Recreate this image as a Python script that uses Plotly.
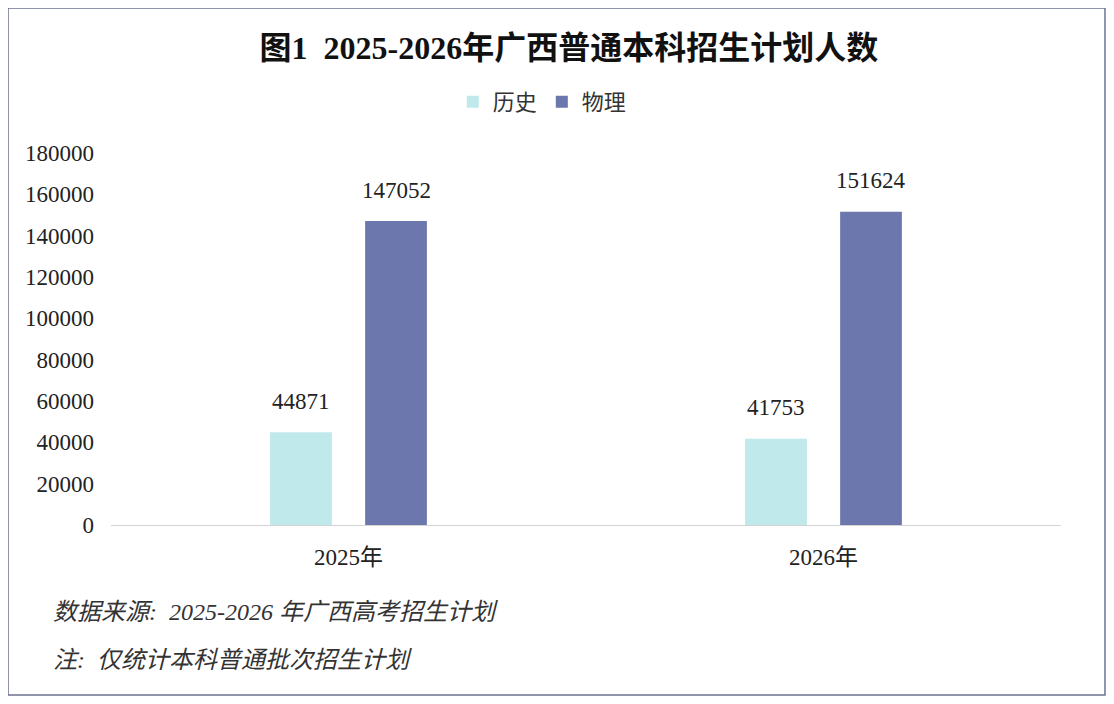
import plotly.graph_objects as go

categories = ["2025年", "2026年"]
series_names = ["历史", "物理"]
history_values = [44871, 41753]
physics_values = [147052, 151624]
y_ticks = [0, 20000, 40000, 60000, 80000, 100000, 120000, 140000, 160000, 180000]
colors = ["#bfe9eb", "#6c77ad"]

FONT = "Liberation Serif, Noto Sans CJK SC, serif"
bargap = 0.6
bargroupgap = 0.35

# page body has an 8px margin; compensate so the figure lands where the reference is
PAGE_OFF = 8
L, T, PW, PH = 111 - PAGE_OFF, 153 - PAGE_OFF, 950, 372
W, H = 1114, 704

fig = go.Figure()
for name, vals, col in zip(series_names, [history_values, physics_values], colors):
    fig.add_trace(go.Bar(
        name=name, x=categories, y=vals,
        marker=dict(color=col, line=dict(width=0)),
        hoverinfo="x+y+name",
    ))

slot = (1 - bargap) / 2
annotations = []
for si, vals in enumerate([history_values, physics_values]):
    off = (si - 0.5) * slot
    for ci, v in enumerate(vals):
        annotations.append(dict(
            x=ci + off, y=v, xref="x", yref="y", text=str(v), showarrow=False,
            yanchor="middle", yshift=31,
            font=dict(family=FONT, size=23, color="#222222"),
        ))

annotations += [
    dict(x=-0.063, y=-0.234, xref="paper", yref="paper", xanchor="left", yanchor="middle",
         text="<i>数据来源:  2025-2026 年广西高考招生计划</i>", showarrow=False,
         font=dict(family=FONT, size=24, color="#333333")),
    dict(x=-0.063, y=-0.363, xref="paper", yref="paper", xanchor="left", yanchor="middle",
         text="<i>注:  仅统计本科普通批次招生计划</i>", showarrow=False,
         font=dict(family=FONT, size=24, color="#333333")),
]

fig.update_layout(
    width=W, height=H,
    margin=dict(l=L, r=W - L - PW, t=T, b=H - T - PH),
    paper_bgcolor="white", plot_bgcolor="white",
    barmode="group", bargap=bargap, bargroupgap=bargroupgap,
    title=dict(text="<b>图1  2025-2026年广西普通本科招生计划人数</b>",
               x=0.482, xref="paper", xanchor="center",
               y=1 - (48 - PAGE_OFF) / H, yref="container", yanchor="middle",
               font=dict(family=FONT, size=32, color="#111111")),
    legend=dict(orientation="h", x=0.454, xanchor="center", y=1.137, yanchor="middle",
                font=dict(family=FONT, size=22, color="#333333"),
                itemwidth=30, tracegroupgap=0, bgcolor="rgba(0,0,0,0)"),
    showlegend=True,
    annotations=annotations,
    shapes=[dict(type="rect", xref="paper", yref="paper",
                 x0=-0.1084, x1=1.0463, y0=-0.457, y1=1.39,
                 line=dict(color="#6e7391", width=1.5), fillcolor="rgba(0,0,0,0)", layer="below")],
    font=dict(family=FONT),
)
fig.update_xaxes(
    type="category", showgrid=False, showline=True, linecolor="#d3d3d3", linewidth=1,
    ticks="", ticklabelstandoff=11,
    tickfont=dict(family=FONT, size=23, color="#222222"), zeroline=False,
)
fig.update_yaxes(
    range=[0, 180000], tickvals=y_ticks, ticktext=[str(t) for t in y_ticks],
    showgrid=False, showline=False, zeroline=False, ticks="", ticklabelstandoff=16,
    tickfont=dict(family=FONT, size=23, color="#222222"),
)

fig.write_html("out.html")
